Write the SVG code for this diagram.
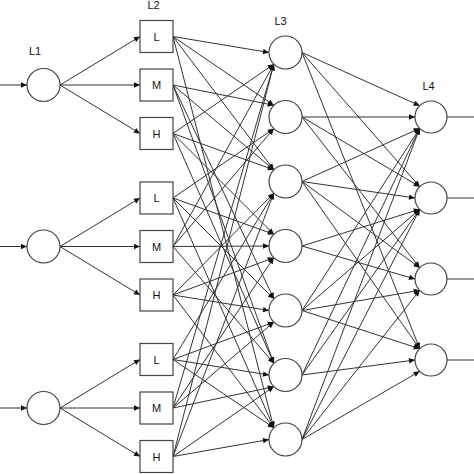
<svg xmlns="http://www.w3.org/2000/svg" width="474" height="474" viewBox="0 0 474 474">
<style>
.e{stroke:#333;stroke-width:1;fill:none;marker-end:url(#a)}
.o{stroke:#333;stroke-width:1;fill:none}
.n{fill:#fff;stroke:#444;stroke-width:1.2}
.t{font-family:"Liberation Sans",Arial,sans-serif;font-size:11px;fill:#111;text-anchor:middle}
</style>
<defs>
<marker id="a" viewBox="0 0 10 10" refX="10" refY="5" markerWidth="7" markerHeight="6" markerUnits="userSpaceOnUse" orient="auto"><path d="M0,0.5 L10,5 L0,9.5 z" fill="#111"/></marker>
</defs>
<rect width="474" height="474" fill="#fff"/>
<g id="connectors">
<line class="e" x1="0" y1="85" x2="27" y2="85"/>
<line class="e" x1="0" y1="246.5" x2="27" y2="246.5"/>
<line class="e" x1="0" y1="408" x2="27" y2="408"/>
<line class="e" x1="60" y1="85" x2="140" y2="36.5"/>
<line class="e" x1="60" y1="85" x2="140" y2="85"/>
<line class="e" x1="60" y1="85" x2="140" y2="133.5"/>
<line class="e" x1="60" y1="246.5" x2="140" y2="198"/>
<line class="e" x1="60" y1="246.5" x2="140" y2="246.5"/>
<line class="e" x1="60" y1="246.5" x2="140" y2="295"/>
<line class="e" x1="60" y1="408" x2="140" y2="359.5"/>
<line class="e" x1="60" y1="408" x2="140" y2="408"/>
<line class="e" x1="60" y1="408" x2="140" y2="456.5"/>
<!-- L2 to L3 -->
<line class="e" x1="173" y1="36.5" x2="269" y2="52.5"/>
<line class="e" x1="173" y1="36.5" x2="273.8" y2="105.3"/>
<line class="e" x1="173" y1="36.5" x2="273.8" y2="169.8"/>
<line class="e" x1="173" y1="36.5" x2="273.8" y2="427.8"/>
<line class="e" x1="173" y1="85" x2="273.8" y2="105.3"/>
<line class="e" x1="173" y1="85" x2="273.8" y2="169.8"/>
<line class="e" x1="173" y1="85" x2="273.8" y2="298.8"/>
<line class="e" x1="173" y1="85" x2="273.8" y2="363.3"/>
<line class="e" x1="173" y1="133.5" x2="273.8" y2="64.2"/>
<line class="e" x1="173" y1="133.5" x2="273.8" y2="169.8"/>
<line class="e" x1="173" y1="133.5" x2="273.8" y2="234.3"/>
<line class="e" x1="173" y1="133.5" x2="273.8" y2="363.3"/>
<line class="e" x1="173" y1="198" x2="273.8" y2="128.7"/>
<line class="e" x1="173" y1="198" x2="273.8" y2="234.3"/>
<line class="e" x1="173" y1="198" x2="273.8" y2="298.8"/>
<line class="e" x1="173" y1="198" x2="273.8" y2="427.8"/>
<line class="e" x1="173" y1="246.5" x2="273.8" y2="64.2"/>
<line class="e" x1="173" y1="246.5" x2="273.8" y2="128.7"/>
<line class="e" x1="173" y1="246.5" x2="269" y2="246"/>
<line class="e" x1="173" y1="246.5" x2="273.8" y2="363.3"/>
<line class="e" x1="173" y1="295" x2="273.8" y2="193.2"/>
<line class="e" x1="173" y1="295" x2="273.8" y2="257.7"/>
<line class="e" x1="173" y1="295" x2="269" y2="310.5"/>
<line class="e" x1="173" y1="295" x2="273.8" y2="427.8"/>
<line class="e" x1="173" y1="359.5" x2="273.8" y2="193.2"/>
<line class="e" x1="173" y1="359.5" x2="273.8" y2="322.2"/>
<line class="e" x1="173" y1="359.5" x2="269" y2="375"/>
<line class="e" x1="173" y1="359.5" x2="273.8" y2="427.8"/>
<line class="e" x1="173" y1="408" x2="273.8" y2="64.2"/>
<line class="e" x1="173" y1="408" x2="273.8" y2="257.7"/>
<line class="e" x1="173" y1="408" x2="273.8" y2="322.2"/>
<line class="e" x1="173" y1="408" x2="273.8" y2="386.7"/>
<line class="e" x1="173" y1="456.5" x2="273.8" y2="64.2"/>
<line class="e" x1="173" y1="456.5" x2="273.8" y2="193.2"/>
<line class="e" x1="173" y1="456.5" x2="273.8" y2="386.7"/>
<line class="e" x1="173" y1="456.5" x2="269" y2="439.5"/>
<!-- L3 to L4 -->
<line class="e" x1="302" y1="52.5" x2="419.7" y2="105.7"/>
<line class="e" x1="302" y1="52.5" x2="419.7" y2="186.7"/>
<line class="e" x1="302" y1="52.5" x2="419.7" y2="348.7"/>
<line class="e" x1="302" y1="117" x2="415" y2="117"/>
<line class="e" x1="302" y1="117" x2="419.7" y2="186.7"/>
<line class="e" x1="302" y1="117" x2="419.7" y2="267.7"/>
<line class="e" x1="302" y1="181.5" x2="419.7" y2="128.3"/>
<line class="e" x1="302" y1="181.5" x2="415" y2="198"/>
<line class="e" x1="302" y1="181.5" x2="419.7" y2="267.7"/>
<line class="e" x1="302" y1="181.5" x2="419.7" y2="348.7"/>
<line class="e" x1="302" y1="246" x2="419.7" y2="209.3"/>
<line class="e" x1="302" y1="246" x2="415" y2="279"/>
<line class="e" x1="302" y1="310.5" x2="419.7" y2="128.3"/>
<line class="e" x1="302" y1="310.5" x2="419.7" y2="209.3"/>
<line class="e" x1="302" y1="310.5" x2="419.7" y2="290.3"/>
<line class="e" x1="302" y1="310.5" x2="419.7" y2="348.7"/>
<line class="e" x1="302" y1="375" x2="419.7" y2="128.3"/>
<line class="e" x1="302" y1="375" x2="419.7" y2="209.3"/>
<line class="e" x1="302" y1="375" x2="415" y2="360"/>
<line class="e" x1="302" y1="439.5" x2="419.7" y2="128.3"/>
<line class="e" x1="302" y1="439.5" x2="419.7" y2="209.3"/>
<line class="e" x1="302" y1="439.5" x2="419.7" y2="290.3"/>
<line class="e" x1="302" y1="439.5" x2="419.7" y2="371.3"/>
<!-- outputs -->
<line class="o" x1="447" y1="117" x2="474" y2="117"/>
<line class="o" x1="447" y1="198" x2="474" y2="198"/>
<line class="o" x1="447" y1="279" x2="474" y2="279"/>
<line class="o" x1="447" y1="360" x2="474" y2="360"/>
</g>
<g id="labels">
<text class="t" x="35" y="55">L1</text>
<text class="t" x="153.5" y="9">L2</text>
<text class="t" x="280.5" y="25">L3</text>
<text class="t" x="428.5" y="90">L4</text>
</g>
<g id="L1-1"><circle class="n" cx="43.5" cy="85" r="16.5"/></g>
<g id="L1-2"><circle class="n" cx="43.5" cy="246.5" r="16.5"/></g>
<g id="L1-3"><circle class="n" cx="43.5" cy="408" r="16.5"/></g>
<g id="L2-1L"><rect class="n" x="140" y="20.5" width="33" height="32"/><text class="t" x="156.5" y="40.5">L</text></g>
<g id="L2-1M"><rect class="n" x="140" y="69" width="33" height="32"/><text class="t" x="156.5" y="89">M</text></g>
<g id="L2-1H"><rect class="n" x="140" y="117.5" width="33" height="32"/><text class="t" x="156.5" y="137.5">H</text></g>
<g id="L2-2L"><rect class="n" x="140" y="182" width="33" height="32"/><text class="t" x="156.5" y="202">L</text></g>
<g id="L2-2M"><rect class="n" x="140" y="230.5" width="33" height="32"/><text class="t" x="156.5" y="250.5">M</text></g>
<g id="L2-2H"><rect class="n" x="140" y="279" width="33" height="32"/><text class="t" x="156.5" y="299">H</text></g>
<g id="L2-3L"><rect class="n" x="140" y="343.5" width="33" height="32"/><text class="t" x="156.5" y="363.5">L</text></g>
<g id="L2-3M"><rect class="n" x="140" y="392" width="33" height="32"/><text class="t" x="156.5" y="412">M</text></g>
<g id="L2-3H"><rect class="n" x="140" y="440.5" width="33" height="32"/><text class="t" x="156.5" y="460.5">H</text></g>
<g id="L3-1"><circle class="n" cx="285.5" cy="52.5" r="16.5"/></g>
<g id="L3-2"><circle class="n" cx="285.5" cy="117" r="16.5"/></g>
<g id="L3-3"><circle class="n" cx="285.5" cy="181.5" r="16.5"/></g>
<g id="L3-4"><circle class="n" cx="285.5" cy="246" r="16.5"/></g>
<g id="L3-5"><circle class="n" cx="285.5" cy="310.5" r="16.5"/></g>
<g id="L3-6"><circle class="n" cx="285.5" cy="375" r="16.5"/></g>
<g id="L3-7"><circle class="n" cx="285.5" cy="439.5" r="16.5"/></g>
<g id="L4-1"><circle class="n" cx="431" cy="117" r="16"/></g>
<g id="L4-2"><circle class="n" cx="431" cy="198" r="16"/></g>
<g id="L4-3"><circle class="n" cx="431" cy="279" r="16"/></g>
<g id="L4-4"><circle class="n" cx="431" cy="360" r="16"/></g>
</svg>
